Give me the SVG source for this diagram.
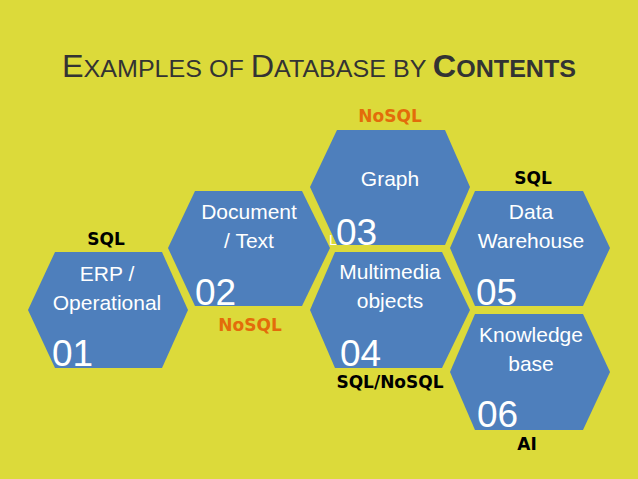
<svg xmlns="http://www.w3.org/2000/svg" width="638" height="479" viewBox="0 0 638 479">
<style>
.hex{fill:#4E7FBC}
.lbl{font-family:"Liberation Sans",sans-serif;font-size:21px;fill:#fff;text-anchor:middle}
.num{font-family:"Liberation Sans",sans-serif;font-size:37px;fill:#fff}
.tag{font-family:"DejaVu Sans",sans-serif;font-weight:bold;font-size:17px}
.title{font-family:"Liberation Sans",sans-serif;fill:#333}
</style>
<rect width="638" height="479" fill="#DCDA3A"/>
<text class="title" x="62" y="77" font-size="31" textLength="514" lengthAdjust="spacingAndGlyphs">E<tspan font-size="24">XAMPLES OF </tspan>D<tspan font-size="24">ATABASE BY </tspan><tspan font-weight="bold">C<tspan font-size="24">ONTENTS</tspan></tspan></text>
<g id="n01"><polygon class="hex" points="55,252 162,252 188,310 162,368 55,368 28,310"/><text class="lbl" x="107" y="281">ERP /</text><text class="lbl" x="107" y="310">Operational</text><text class="num" x="52" y="366">01</text></g>
<g id="n02"><polygon class="hex" points="195,191 302,191 330,248 302,306 195,306 168,248"/><text class="lbl" x="249" y="219">Document</text><text class="lbl" x="249" y="248">/ Text</text><text class="num" x="195" y="305">02</text></g>
<g id="n03"><polygon class="hex" points="337,130 445,130 470,187 445,245 337,245 310,187"/><text class="lbl" x="390" y="186">Graph</text><text class="num" x="336" y="245">03</text><text x="329" y="245" font-family="Liberation Sans,sans-serif" font-size="14" fill="#fff">L</text></g>
<g id="n04"><polygon class="hex" points="335,252 442,252 470,310 442,368 335,368 310,310"/><text class="lbl" x="390" y="279">Multimedia</text><text class="lbl" x="390" y="308">objects</text><text class="num" x="340" y="366">04</text></g>
<g id="n05"><polygon class="hex" points="475,191 583,191 610,248 583,306 475,306 450,248"/><text class="lbl" x="531" y="219">Data</text><text class="lbl" x="531" y="248">Warehouse</text><text class="num" x="476" y="305">05</text></g>
<g id="n06"><polygon class="hex" points="475,314 583,314 610,372 583,430 475,430 450,372"/><text class="lbl" x="531" y="342">Knowledge</text><text class="lbl" x="531" y="371">base</text><text class="num" x="477" y="427">06</text></g>
<g id="tags">
<text class="tag" x="106" y="245" text-anchor="middle" fill="#000">SQL</text>
<text class="tag" x="250" y="331" text-anchor="middle" fill="#E36C0A">NoSQL</text>
<text class="tag" x="390" y="122" text-anchor="middle" fill="#E36C0A">NoSQL</text>
<text class="tag" x="390" y="388" text-anchor="middle" fill="#000">SQL/NoSQL</text>
<text class="tag" x="533" y="184" text-anchor="middle" fill="#000">SQL</text>
<text class="tag" x="527" y="450" text-anchor="middle" fill="#000">AI</text>
</g>
</svg>
